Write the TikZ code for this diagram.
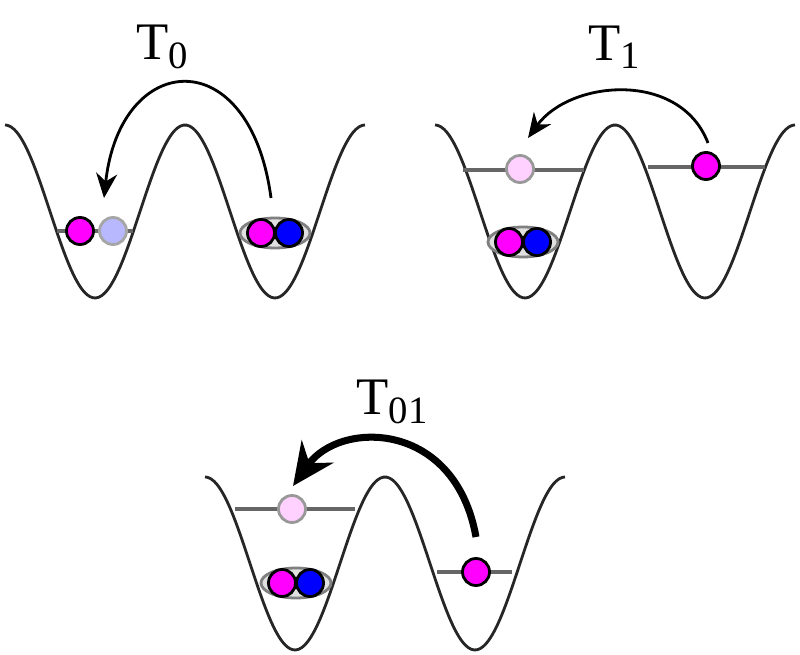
\documentclass[tikz,border=0pt]{standalone}
\usepackage{fontspec}
\setmainfont{Liberation Serif}
\usetikzlibrary{arrows.meta}
\definecolor{mg}{RGB}{255,0,255}
\definecolor{bl}{RGB}{0,0,255}
\newcommand{\lsub}[1]{\raisebox{-0.35ex}{\fontsize{11}{12}\selectfont #1}}
\begin{document}
\begin{tikzpicture}[x=0.01cm,y=-0.01cm,
  well/.style={line width=0.8pt,black!85},
  level/.style={line width=1pt,black!60},
  ball/.style={circle,draw=black,line width=0.8pt,minimum size=0.27cm,inner sep=0pt},
  mag/.style={ball,fill=mg},
  blu/.style={ball,fill=bl},
  ghostpink/.style={ball,fill=mg!18,draw=black!40},
  ghostblue/.style={ball,fill=bl!28,draw=black!35},
  shell/.style={draw=black!50,fill=black!12,line width=0.8pt},
  hop/.style={line width=0.8pt,-{Stealth[length=7pt,width=6pt]}},
  lab/.style={font=\fontsize{15}{17}\selectfont}]
\useasboundingbox (0,0) rectangle (800,655);
% wells
\foreach \xo/\yo in {5/125,435/125,205/477}
  \draw[well,shift={(\xo,\yo)}] plot[domain=0:360,samples=120,smooth] (\x,{86.5*(1-cos(\x*2))});
% panel 1
\draw[level] (57,231) -- (133,231);
\node[mag] (a1) at (80,231) {};
\node[ghostblue] (a2) at (113,231) {};
\draw[shell] (275,233) ellipse [x radius=35, y radius=15];
\node[mag] (a3) at (261,233) {};
\node[blu] (a4) at (289,233) {};
\coordinate (s1) at (271,198);
\coordinate (e1) at (104,198);
\draw[hop] (s1) .. controls (250,40) and (120,50) .. (e1);
\node[lab] (t0) at (162,47) {T\lsub{0}};
% panel 2
\draw[level] (463,170) -- (584,170);
\node[ghostpink] (b1) at (520,169) {};
\draw[shell] (523,242) ellipse [x radius=35, y radius=15];
\node[mag] (b2) at (509,242) {};
\node[blu] (b3) at (537,242) {};
\draw[level] (648,167) -- (765,167);
\node[mag] (b4) at (706,166) {};
\coordinate (s2) at (708,143);
\coordinate (e2) at (528,138);
\draw[hop] (s2) .. controls (680,70) and (570,80) .. (e2);
\node[lab] (t1) at (614,47) {T\lsub{1}};
% panel 3
\draw[level] (235,509) -- (355,509);
\node[ghostpink] (c1) at (292,509) {};
\draw[shell] (296,583) ellipse [x radius=35, y radius=15];
\node[mag] (c2) at (282,583) {};
\node[blu] (c3) at (310,583) {};
\draw[level] (437,572) -- (512,572);
\node[mag] (c4) at (476,572) {};
\coordinate (s3) at (476,537);
\coordinate (e3) at (293,486);
\draw[hop,line width=2pt,-{Stealth[length=12pt,width=11pt,inset=4pt]}] (s3) .. controls (455,420) and (340,420) .. (e3);
\node[lab] (t01) at (392,402) {T\lsub{01}};
\end{tikzpicture}
\end{document}
